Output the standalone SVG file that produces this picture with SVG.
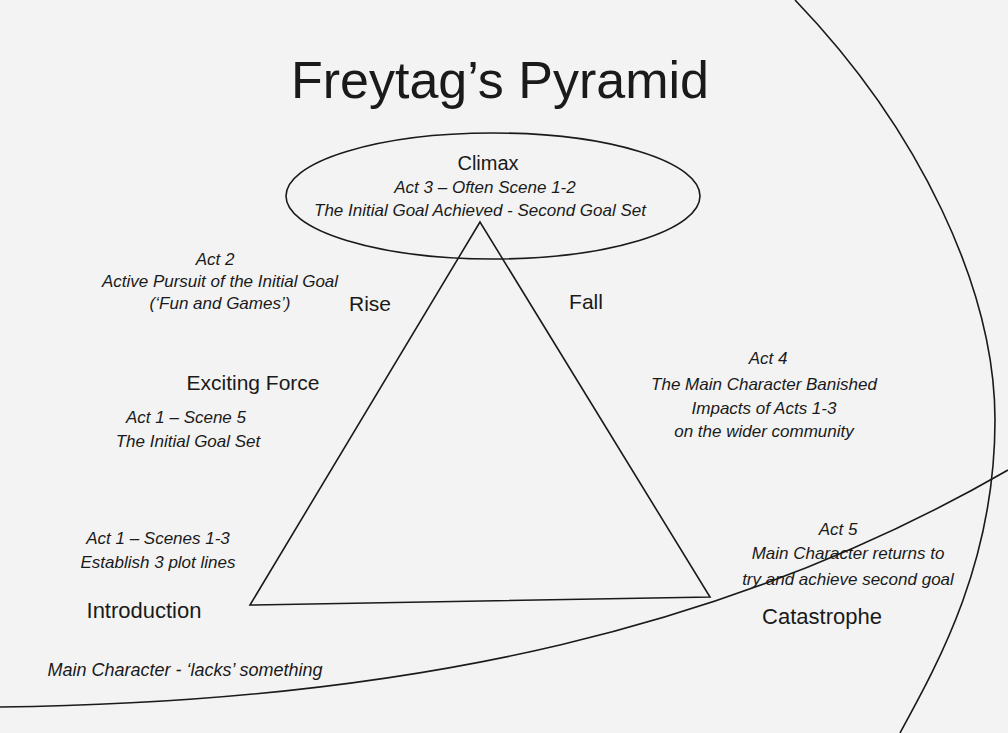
<svg xmlns="http://www.w3.org/2000/svg" width="1008" height="733" viewBox="0 0 1008 733">
<style>
text{font-family:"Liberation Sans",Arial,sans-serif;fill:#1a1a1a;text-anchor:middle}
.h{font-size:21px}
.i{font-size:17px;font-style:italic}
.ln{fill:none;stroke:#1a1a1a;stroke-width:1.6}
</style>
<rect width="1008" height="733" fill="#f3f3f3"/>
<g id="connectors">
<path class="ln" d="M795 0 C920 130 995 290 995 420 C995 560 940 660 900 733"/>
<path class="ln" d="M0 707 C420 702 740 625 1008 470"/>
</g>
<g id="title"><text x="500" y="98" style="font-size:52px">Freytag’s Pyramid</text></g>
<g id="climax">
<ellipse class="ln" cx="493" cy="196" rx="207" ry="63"/>
<text class="h" x="488" y="170" style="font-size:20px">Climax</text>
<text class="i" x="485" y="193">Act 3 – Often Scene 1-2</text>
<text class="i" x="480" y="216">The Initial Goal Achieved - Second Goal Set</text>
</g>
<g id="pyramid"><polygon class="ln" points="480,222 250,605 710,597"/></g>
<g id="act2">
<text class="i" x="215" y="265">Act 2</text>
<text class="i" x="220" y="287">Active Pursuit of the Initial Goal</text>
<text class="i" x="220" y="309">(‘Fun and Games’)</text>
</g>
<g id="rise"><text class="h" x="370" y="311">Rise</text></g>
<g id="fall"><text class="h" x="586" y="309">Fall</text></g>
<g id="exciting">
<text class="h" x="253" y="390">Exciting Force</text>
<text class="i" x="186" y="423">Act 1 – Scene 5</text>
<text class="i" x="188" y="447">The Initial Goal Set</text>
</g>
<g id="act4">
<text class="i" x="768" y="364">Act 4</text>
<text class="i" x="764" y="390">The Main Character Banished</text>
<text class="i" x="764" y="414">Impacts of Acts 1-3</text>
<text class="i" x="764" y="437">on the wider community</text>
</g>
<g id="introduction">
<text class="i" x="158" y="544">Act 1 – Scenes 1-3</text>
<text class="i" x="158" y="568">Establish 3 plot lines</text>
<text class="h" x="144" y="618" style="font-size:22px">Introduction</text>
<text class="i" x="185" y="676" style="font-size:18px">Main Character - ‘lacks’ something</text>
</g>
<g id="catastrophe">
<text class="i" x="838" y="535">Act 5</text>
<text class="i" x="848" y="559">Main Character returns to</text>
<text class="i" x="848" y="585">try and achieve second goal</text>
<text class="h" x="822" y="624" style="font-size:22px">Catastrophe</text>
</g>
</svg>
